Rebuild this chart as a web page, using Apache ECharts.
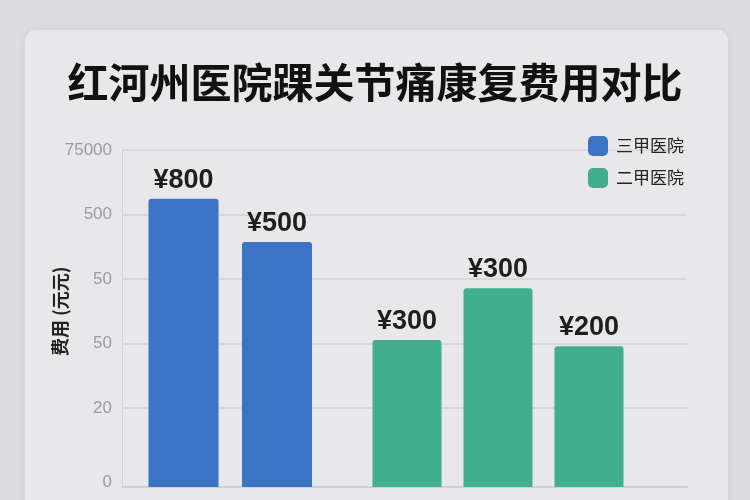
<!DOCTYPE html>
<html>
<head>
<meta charset="utf-8">
<script src="https://cdn.jsdelivr.net/npm/echarts@6/dist/echarts.min.js"></script>
<style>
html,body{margin:0;padding:0;background:#dcdcdf;}
#chart{width:750px;height:500px;}
</style>
</head>
<body>
<div id="chart"></div>
<script>
// ---- data ----
const titleText = "红河州医院踝关节痛康复费用对比";
const yAxisName = "费用 (元元)";
const yTickLabels = ["0", "20", "50", "50", "500", "75000"];
const seriesNames = ["三甲医院", "二甲医院"];
const tertiaryCategories = ["三甲医院1", "三甲医院2"];
const tertiaryValues = [855, 727];           // bar heights
const tertiaryLabels = ["¥800", "¥500"];
const secondaryCategories = ["二甲医院1", "二甲医院2", "二甲医院3"];
const secondaryValues = [436, 590, 418];
const secondaryLabels = ["¥300", "¥300", "¥200"];

const BLUE = "#3b74c4";
const GREEN = "#41ae8c";
const FONT = "'Liberation Sans', 'Noto Sans CJK SC', sans-serif";
const CJK = "'Noto Sans CJK SC', sans-serif";

const chart = echarts.init(document.getElementById('chart'), null, {renderer: 'canvas'});

const labelStyle = (labels) => ({
  show: true,
  position: 'top',
  distance: 5,
  fontSize: 27,
  fontWeight: 'bold',
  color: '#1e1e1e',
  fontFamily: FONT,
  formatter: (p) => labels[p.dataIndex]
});

const option = {
  backgroundColor: '#dcdcdf',
  animation: false,
  graphic: [{
    type: 'rect',
    z: -10,
    shape: {x: 25, y: 30, width: 703, height: 500, r: 10},
    style: {fill: '#e8e8ea', shadowBlur: 8, shadowColor: 'rgba(0,0,0,0.06)'}
  }],
  title: {
    text: titleText,
    left: 'center',
    top: 57,
    textStyle: {fontSize: 41, fontWeight: 'bold', color: '#111', fontFamily: CJK}
  },
  legend: {
    orient: 'vertical',
    left: 583,
    top: 131,
    itemWidth: 20,
    itemHeight: 20,
    itemGap: 12,
    icon: 'roundRect',
    data: seriesNames,
    textStyle: {fontSize: 17, color: '#222', fontFamily: CJK, padding: [0, 0, 0, 3]}
  },
  grid: [
    {left: 122, right: 63, top: 150, bottom: 27.5},
    {left: 136.75, right: 426.25, top: 150, bottom: 13},
    {left: 361.5, right: 115.5, top: 150, bottom: 13},
    {left: 122, right: 63, top: 150, bottom: 13}
  ],
  xAxis: [
    {gridIndex: 0, type: 'value', min: 0, max: 1, offset: 14.5,
     axisLine: {show: true, onZero: false, lineStyle: {color: '#c9c9cc', width: 1.5}},
     axisTick: {show: false}, axisLabel: {show: false}, splitLine: {show: false}},
    {gridIndex: 1, type: 'category', data: tertiaryCategories, show: false},
    {gridIndex: 2, type: 'category', data: secondaryCategories, show: false},
    {gridIndex: 3, type: 'value', min: 0, max: 1, show: false}
  ],
  yAxis: [
    {gridIndex: 0, type: 'value', min: 0, max: 5, interval: 1,
     name: yAxisName, nameLocation: 'middle', nameGap: 53, nameRotate: 90,
     nameMoveOverlap: false,
     nameTextStyle: {fontSize: 18, fontWeight: 'bold', color: '#222', fontFamily: CJK},
     axisLine: {show: false},
     axisTick: {show: false},
     axisLabel: {
       margin: 10, fontSize: 17, color: '#9b9b9e', fontFamily: FONT,
       formatter: (v) => {
         const t = yTickLabels[Math.round(v)];
         return v === 0 ? '{z|' + t + '}' : t;
       },
       rich: {z: {fontSize: 17, color: '#9b9b9e', fontFamily: FONT, padding: [20, 0, 0, 0]}}
     },
     splitLine: {show: true, showMinLine: false, lineStyle: {color: '#d3d3d6', width: 1.5}}},
    {gridIndex: 1, type: 'value', min: 0, max: 1000, show: false, splitLine: {show: false}},
    {gridIndex: 2, type: 'value', min: 0, max: 1000, show: false, splitLine: {show: false}},
    {gridIndex: 3, type: 'value', min: 0, max: 1, show: true,
     axisLine: {show: true, lineStyle: {color: '#d3d3d6'}},
     axisTick: {show: false}, axisLabel: {show: false}, splitLine: {show: false}}
  ],
  series: [
    {
      name: seriesNames[0], type: 'bar', xAxisIndex: 1, yAxisIndex: 1,
      data: tertiaryValues, barWidth: 70,
      itemStyle: {color: BLUE, borderRadius: [3, 3, 0, 0]},
      label: labelStyle(tertiaryLabels)
    },
    {
      name: seriesNames[1], type: 'bar', xAxisIndex: 2, yAxisIndex: 2,
      data: secondaryValues, barWidth: 69,
      itemStyle: {color: GREEN, borderRadius: [3, 3, 0, 0]},
      label: labelStyle(secondaryLabels)
    }
  ]
};
chart.setOption(option);
</script>
</body>
</html>
